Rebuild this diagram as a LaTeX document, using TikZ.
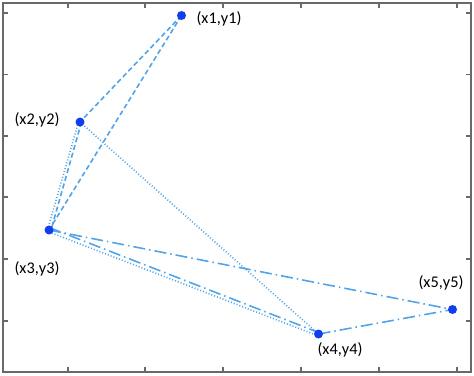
\documentclass[tikz,border=0pt]{standalone}
\usepackage{fontspec}
\setmainfont{Carlito}
\usepackage{xcolor}
\definecolor{linecol}{RGB}{82,163,232}
\definecolor{dotcol}{RGB}{18,62,238}
\definecolor{axiscol}{RGB}{105,105,105}

\begin{document}
\begin{tikzpicture}[x=1pt,y=-1pt]
						\tikzstyle{point} = [circle,fill=dotcol,draw=none,inner sep=0pt,minimum size=9pt]
						\tikzstyle{tag} = [font=\fontsize{16.3}{18}\selectfont,inner sep=0pt]
						\tikzstyle{dashedge} = [linecol,line width=1.6pt,dash pattern=on 5pt off 3pt]
						\tikzstyle{dotedge} = [linecol,line width=1.6pt,dash pattern=on 1pt off 2pt]
						\tikzstyle{dashdotedge} = [linecol,line width=1.6pt,dash pattern=on 12pt off 4pt on 1.5pt off 4pt]
						\tikzstyle{axis} = [axiscol,line width=1.2pt]
						\useasboundingbox (0,0) rectangle (474,375);
						% axes and ticks
						\draw[axis] (3,3) rectangle (471,372);
						\draw[axis] (68,3)--(68,8) (145,3)--(145,8) (223,3)--(223,8) (301,3)--(301,8) (379,3)--(379,8) (457,3)--(457,8);
						\draw[axis] (68,372)--(68,367) (145,372)--(145,367) (223,372)--(223,367) (301,372)--(301,367) (379,372)--(379,367) (457,372)--(457,367);
						\draw[axis] (3,13)--(8,13) (3,74.5)--(8,74.5) (3,136)--(8,136) (3,197)--(8,197) (3,259)--(8,259) (3,321)--(8,321);
						\draw[axis] (471,13)--(466,13) (471,74.5)--(466,74.5) (471,136)--(466,136) (471,197)--(466,197) (471,259)--(466,259) (471,321)--(466,321);
						% points
						\coordinate (n1) at (181.5,15.5);
						\coordinate (n2) at (80,122);
						\coordinate (n3) at (49,230);
						\coordinate (n4) at (318.5,334);
						\coordinate (n5) at (452.5,309.5);
						% dashed triangle
						\draw[dashedge] (n1)--(n2);
						\draw[dashedge] (n1)--(n3);
						\draw[dashedge] ([xshift=1.5pt]n2)--([xshift=2pt]n3);
						% dotted triangle
						\draw[dotedge] ([xshift=-1.5pt]n2)--([xshift=-1.5pt]n3);
						\draw[dotedge] (n2)--(n4);
						\draw[dotedge] ([yshift=-2pt]n3)--([yshift=-2pt]n4);
						% dash-dot triangle
						\draw[dashdotedge] (n3)--(n5);
						\draw[dashdotedge] ([yshift=2.5pt]n3)--([yshift=1.5pt]n4);
						\draw[dashdotedge] (n4)--(n5);
						\node[point] (p1) at (n1) {};
						\node[point] (p2) at (n2) {};
						\node[point] (p3) at (n3) {};
						\node[point] (p4) at (n4) {};
						\node[point] (p5) at (n5) {};
						% labels
						\node[tag] (t1) at (219,19) {(x1,y1)};
						\node[tag] (t2) at (37,120) {(x2,y2)};
						\node[tag] (t3) at (37,269) {(x3,y3)};
						\node[tag] (t4) at (340,350) {(x4,y4)};
						\node[tag] (t5) at (441,283) {(x5,y5)};
						\end{tikzpicture}
\end{document}
